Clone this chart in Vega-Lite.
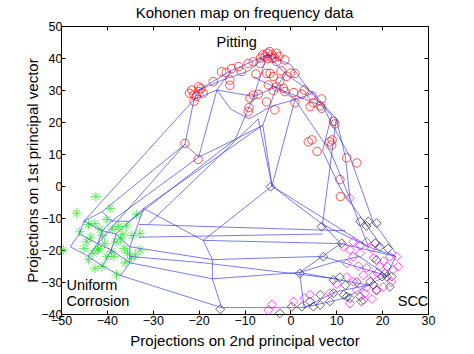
{
  "$schema": "https://vega.github.io/schema/vega-lite/v6.json",
  "width": 367,
  "height": 288,
  "autosize": {"type": "none"},
  "padding": {"left": 61, "top": 26, "right": 46, "bottom": 40},
  "background": "white",
  "title": {"text": "Kohonen map on frequency data", "font": "Liberation Sans", "fontSize": 15, "fontWeight": "normal", "color": "black", "offset": -1},
  "config": {
    "view": {"stroke": "black", "strokeWidth": 1},
    "axis": {"grid": false, "domainColor": "black", "tickColor": "black", "tickSize": -4, "labelFont": "Liberation Sans", "labelFontSize": 12.5, "labelColor": "black", "titleFont": "Liberation Sans", "titleFontSize": 15, "titleFontWeight": "normal", "titleColor": "black", "labelOverlap": false, "labelBound": false, "labelFlush": false}
  },
  "datasets": {
    "grid": [
      {"g":"r0","k":0,"x":-48,"y":-19},{"g":"r0","k":1,"x":-44,"y":-22},{"g":"r0","k":2,"x":-41,"y":-25},{"g":"r0","k":3,"x":-37,"y":-28},{"g":"r0","k":4,"x":-15,"y":-38},{"g":"r0","k":5,"x":3,"y":-38},{"g":"r0","k":6,"x":12,"y":-35},
      {"g":"r1","k":0,"x":-46,"y":-15},{"g":"r1","k":1,"x":-42,"y":-18},{"g":"r1","k":2,"x":-39,"y":-20},{"g":"r1","k":3,"x":-35,"y":-24},{"g":"r1","k":4,"x":-17,"y":-29},{"g":"r1","k":5,"x":2,"y":-27},{"g":"r1","k":6,"x":17,"y":-31},
      {"g":"r2","k":0,"x":-45,"y":-11},{"g":"r2","k":1,"x":-41,"y":-14},{"g":"r2","k":2,"x":-38,"y":-15},{"g":"r2","k":3,"x":-35,"y":-19},{"g":"r2","k":4,"x":-17,"y":-23},{"g":"r2","k":5,"x":7,"y":-22},{"g":"r2","k":6,"x":21,"y":-28},
      {"g":"r3","k":0,"x":-41,"y":-8},{"g":"r3","k":1,"x":-39,"y":-11},{"g":"r3","k":2,"x":-35,"y":-11},{"g":"r3","k":3,"x":-32,"y":-7},{"g":"r3","k":4,"x":-19,"y":-17},{"g":"r3","k":5,"x":11,"y":-18},{"g":"r3","k":6,"x":23,"y":-22},
      {"g":"r4","k":0,"x":-23,"y":13},{"g":"r4","k":1,"x":-20,"y":9},{"g":"r4","k":2,"x":-12,"y":14.6},{"g":"r4","k":3,"x":-6,"y":19},{"g":"r4","k":4,"x":-4,"y":0},{"g":"r4","k":5,"x":7,"y":-12},{"g":"r4","k":6,"x":17,"y":-19},
      {"g":"r5","k":0,"x":-21,"y":27},{"g":"r5","k":1,"x":-16,"y":30},{"g":"r5","k":2,"x":-8,"y":28},{"g":"r5","k":3,"x":-3,"y":31},{"g":"r5","k":4,"x":1,"y":27},{"g":"r5","k":5,"x":9,"y":10},{"g":"r5","k":6,"x":13,"y":-4},
      {"g":"r6","k":0,"x":-20,"y":30},{"g":"r6","k":1,"x":-13,"y":36},{"g":"r6","k":2,"x":-5,"y":41},{"g":"r6","k":3,"x":-1,"y":35},{"g":"r6","k":4,"x":5,"y":29},{"g":"r6","k":5,"x":10,"y":21},{"g":"r6","k":6,"x":12,"y":9},
      {"g":"c0","k":0,"x":-48,"y":-19},{"g":"c0","k":1,"x":-46,"y":-15},{"g":"c0","k":2,"x":-45,"y":-11},{"g":"c0","k":3,"x":-41,"y":-8},{"g":"c0","k":4,"x":-23,"y":13},{"g":"c0","k":5,"x":-21,"y":27},{"g":"c0","k":6,"x":-20,"y":30},
      {"g":"c1","k":0,"x":-44,"y":-22},{"g":"c1","k":1,"x":-42,"y":-18},{"g":"c1","k":2,"x":-41,"y":-14},{"g":"c1","k":3,"x":-39,"y":-11},{"g":"c1","k":4,"x":-20,"y":9},{"g":"c1","k":5,"x":-16,"y":30},{"g":"c1","k":6,"x":-13,"y":36},
      {"g":"c2","k":0,"x":-41,"y":-25},{"g":"c2","k":1,"x":-39,"y":-20},{"g":"c2","k":2,"x":-38,"y":-15},{"g":"c2","k":3,"x":-35,"y":-11},{"g":"c2","k":4,"x":-12,"y":14.6},{"g":"c2","k":5,"x":-8,"y":28},{"g":"c2","k":6,"x":-5,"y":41},
      {"g":"c3","k":0,"x":-37,"y":-28},{"g":"c3","k":1,"x":-35,"y":-24},{"g":"c3","k":2,"x":-35,"y":-19},{"g":"c3","k":3,"x":-32,"y":-7},{"g":"c3","k":4,"x":-6,"y":19},{"g":"c3","k":5,"x":-3,"y":31},{"g":"c3","k":6,"x":-1,"y":35},
      {"g":"c4","k":0,"x":-15,"y":-38},{"g":"c4","k":1,"x":-17,"y":-29},{"g":"c4","k":2,"x":-17,"y":-23},{"g":"c4","k":3,"x":-19,"y":-17},{"g":"c4","k":4,"x":-4,"y":0},{"g":"c4","k":5,"x":1,"y":27},{"g":"c4","k":6,"x":5,"y":29},
      {"g":"c5","k":0,"x":3,"y":-38},{"g":"c5","k":1,"x":2,"y":-27},{"g":"c5","k":2,"x":7,"y":-22},{"g":"c5","k":3,"x":11,"y":-18},{"g":"c5","k":4,"x":7,"y":-12},{"g":"c5","k":5,"x":9,"y":10},{"g":"c5","k":6,"x":10,"y":21},
      {"g":"c6","k":0,"x":12,"y":-35},{"g":"c6","k":1,"x":17,"y":-31},{"g":"c6","k":2,"x":21,"y":-28},{"g":"c6","k":3,"x":23,"y":-22},{"g":"c6","k":4,"x":17,"y":-19},{"g":"c6","k":5,"x":13,"y":-4},{"g":"c6","k":6,"x":12,"y":9},
      {"g":"e0","k":0,"x":-45,"y":-11},{"g":"e0","k":1,"x":-21,"y":27},
      {"g":"e1","k":0,"x":-42,"y":-18},{"g":"e1","k":1,"x":-23,"y":13},
      {"g":"e2","k":0,"x":-31,"y":-12},{"g":"e2","k":1,"x":-7,"y":21},
      {"g":"e3","k":0,"x":-33,"y":-16},{"g":"e3","k":1,"x":7,"y":-15},
      {"g":"e4","k":0,"x":-33,"y":-12},{"g":"e4","k":1,"x":12,"y":-14},
      {"g":"e5","k":0,"x":-35,"y":-22},{"g":"e5","k":1,"x":-19,"y":-24},{"g":"e5","k":2,"x":10,"y":-29},
      {"g":"e6","k":0,"x":-7,"y":21},{"g":"e6","k":1,"x":-4,"y":0},{"g":"e6","k":2,"x":16,"y":-18},
      {"g":"e7","k":0,"x":-5,"y":41},{"g":"e7","k":1,"x":0,"y":38},{"g":"e7","k":2,"x":4,"y":30},{"g":"e7","k":3,"x":9,"y":22},{"g":"e7","k":4,"x":7,"y":11},{"g":"e7","k":5,"x":11,"y":-1},{"g":"e7","k":6,"x":20,"y":-19},
      {"g":"e8","k":0,"x":-8,"y":34},{"g":"e8","k":1,"x":-2,"y":30},{"g":"e8","k":2,"x":7,"y":25},{"g":"e8","k":3,"x":13,"y":9},{"g":"e8","k":4,"x":18,"y":-11},{"g":"e8","k":5,"x":23,"y":-21},
      {"g":"e9","k":0,"x":-20,"y":30},{"g":"e9","k":1,"x":-15,"y":33},{"g":"e9","k":2,"x":-9,"y":36},{"g":"e9","k":3,"x":-5,"y":41},
      {"g":"e10","k":0,"x":-16,"y":30},{"g":"e10","k":1,"x":-13,"y":24},{"g":"e10","k":2,"x":-9,"y":21},{"g":"e10","k":3,"x":-4,"y":25},{"g":"e10","k":4,"x":1,"y":27},
      {"g":"e11","k":0,"x":2,"y":-27},{"g":"e11","k":1,"x":9,"y":-24},{"g":"e11","k":2,"x":15,"y":-22},{"g":"e11","k":3,"x":21,"y":-28},
      {"g":"e12","k":0,"x":3,"y":-38},{"g":"e12","k":1,"x":10,"y":-33},{"g":"e12","k":2,"x":17,"y":-31}
    ],
    "pit": [
      {"x":-5,"y":41.5},{"x":-4,"y":41},{"x":-5.5,"y":40.5},{"x":-3.5,"y":40},{"x":-4.5,"y":42},{"x":-6,"y":41},{"x":-3,"y":41.5},{"x":-4,"y":40},{"x":-5,"y":39.8},{"x":-2.5,"y":40.5},{"x":-6.5,"y":40},
      {"x":-20,"y":29.5},{"x":-21,"y":28.5},{"x":-19.5,"y":30.5},{"x":-20.5,"y":28},{"x":-19,"y":29},{"x":-21.5,"y":30},{"x":-20,"y":31},{"x":-22,"y":29},{"x":-21,"y":26.5},
      {"x":-16.8,"y":32.6},{"x":-15,"y":35.7},{"x":-14,"y":35.5},{"x":-12.8,"y":36.7},{"x":-11.3,"y":37.3},{"x":-9.2,"y":38.3},{"x":-10.7,"y":35.8},{"x":-13.2,"y":33.1},{"x":-13.2,"y":31.5},{"x":-8.1,"y":38.8},{"x":-6.6,"y":38.3},{"x":-3,"y":38.9},{"x":-1.2,"y":39.4},{"x":-4.4,"y":35.2},{"x":-3.7,"y":34.2},{"x":-2.3,"y":32.7},{"x":-0.8,"y":34.3},{"x":0,"y":35.3},{"x":-4.8,"y":31.6},{"x":-3,"y":31},{"x":-1.5,"y":30.5},{"x":-3.7,"y":29.8},{"x":-1.2,"y":29.5},{"x":0.7,"y":29.2},{"x":2.5,"y":28.7},{"x":4.7,"y":28.2},{"x":5,"y":26},{"x":6.5,"y":25.1},{"x":6.8,"y":27.2},{"x":9.7,"y":19.4},{"x":9.4,"y":20.2},{"x":8.6,"y":13.8},{"x":9,"y":12.8},{"x":3.9,"y":13.8},{"x":5.8,"y":10.8},{"x":12.3,"y":8.8},{"x":14.5,"y":7.2},{"x":10.8,"y":2},{"x":10.9,"y":-3.3},{"x":-23,"y":13.3},{"x":-20.1,"y":8.3},{"x":-9.2,"y":23.2},{"x":-8.1,"y":28.4},{"x":-8.8,"y":27.5},{"x":-5.2,"y":26.3},{"x":-3.4,"y":23.8},{"x":-7,"y":28.7},{"x":1,"y":26},{"x":-9,"y":24.5},{"x":-2,"y":36},{"x":3,"y":30},{"x":-7.5,"y":35},{"x":4.3,"y":24.8},{"x":6.8,"y":24.3},{"x":9.1,"y":14.4},{"x":4.7,"y":14.4},{"x":1,"y":35.2},{"x":-5.2,"y":35.2}
    ],
    "uc": [
      {"x":-42.4,"y":-3.3},{"x":-46.6,"y":-8.5},{"x":-39.3,"y":-7},{"x":-42.6,"y":-11.7},{"x":-37.5,"y":-12.7},{"x":-35.7,"y":-12.5},{"x":-41,"y":-15.5},{"x":-44.4,"y":-17.4},{"x":-43.5,"y":-16},{"x":-40.5,"y":-18},{"x":-38,"y":-17.5},{"x":-36.5,"y":-15},{"x":-34.5,"y":-15.5},{"x":-32.8,"y":-14.8},{"x":-32.8,"y":-20},{"x":-49.5,"y":-20},{"x":-40,"y":-22.1},{"x":-38.5,"y":-22},{"x":-41.1,"y":-25.2},{"x":-42.6,"y":-25.7},{"x":-37.9,"y":-27.8},{"x":-34.6,"y":-22.6},{"x":-33.8,"y":-21.5},{"x":-42,"y":-20},{"x":-45.9,"y":-14.3},{"x":-41.5,"y":-13.5},{"x":-38.7,"y":-13.5},{"x":-41.8,"y":-19.5},{"x":-36.2,"y":-19.5},{"x":-35.5,"y":-21},{"x":-45,"y":-19.5},{"x":-43,"y":-21},{"x":-39,"y":-20.5},{"x":-37,"y":-16.5},{"x":-40,"y":-10.5},{"x":-44,"y":-12},{"x":-33.5,"y":-9},{"x":-36,"y":-24},{"x":-44,"y":-23}
    ],
    "scc1": [
      {"x":-4.3,"y":-0.2},{"x":6.8,"y":-12.7},{"x":7.2,"y":-22.1},{"x":2.1,"y":-27.3},{"x":-15.3,"y":-38.5},{"x":-2.3,"y":-39.8},{"x":0.3,"y":-37.7},{"x":2.5,"y":-37.7},{"x":5,"y":-37.7},{"x":4.3,"y":-36.1},{"x":6.5,"y":-34},{"x":9.4,"y":-29.4},{"x":10.8,"y":-28.5},{"x":11.6,"y":-34},{"x":12.3,"y":-34.6},{"x":15.2,"y":-11.1},{"x":17,"y":-11.1},{"x":18.8,"y":-11.6},{"x":16.6,"y":-12.5},{"x":11.2,"y":-17.9},{"x":18.5,"y":-17.9},{"x":19.5,"y":-19},{"x":21.3,"y":-19.5},{"x":18.8,"y":-23.1},{"x":20.6,"y":-27.3},{"x":21,"y":-28.3},{"x":17.4,"y":-29.9},{"x":18.1,"y":-30.9},{"x":18.8,"y":-32.5},{"x":21.7,"y":-31.5},{"x":15.2,"y":-34.6},{"x":13,"y":-35},{"x":15.5,"y":-36.1},{"x":8.6,"y":-36.1},{"x":6.5,"y":-37.2},{"x":9.4,"y":-33.5},{"x":22.1,"y":-28.3},{"x":20,"y":-28.3},{"x":12,"y":-31},{"x":14.5,"y":-30}
    ],
    "scc2": [
      {"x":-4.8,"y":-38.8},{"x":0.7,"y":-36.1},{"x":4.3,"y":-34},{"x":13,"y":-3.8},{"x":11.6,"y":-19},{"x":13,"y":-20},{"x":13.7,"y":-22.1},{"x":15.2,"y":-21},{"x":12.3,"y":-24.2},{"x":14.8,"y":-25},{"x":16.6,"y":-25.6},{"x":18.1,"y":-22.5},{"x":20.3,"y":-23.5},{"x":23.2,"y":-22.1},{"x":23.5,"y":-25.2},{"x":22.4,"y":-26.2},{"x":19,"y":-27.2},{"x":21.1,"y":-25.2},{"x":15.9,"y":-27.9},{"x":18.1,"y":-27.9},{"x":16.3,"y":-33.5},{"x":17.8,"y":-35.3},{"x":18.8,"y":-32.7},{"x":16.6,"y":-31.7},{"x":15.9,"y":-35.6},{"x":14.5,"y":-32.5},{"x":13.7,"y":-29.9},{"x":12.3,"y":-28.5},{"x":10.1,"y":-30.6},{"x":8.6,"y":-33.5},{"x":13,"y":-36.7},{"x":20.3,"y":-31.5},{"x":21.7,"y":-22.1},{"x":17.7,"y":-19.5},{"x":13.7,"y":-17.4},{"x":15.2,"y":-18.6},{"x":16.6,"y":-17.5},{"x":3,"y":-35},{"x":-4,"y":-37},{"x":22,"y":-30},{"x":19.5,"y":-25}
    ],
    "labels": [
      {"t":"Pitting","x":-16.1,"y":44.8},
      {"t":"Uniform","x":-48.8,"y":-31.1},
      {"t":"Corrosion","x":-48.8,"y":-36.3},
      {"t":"SCC","x":23.4,"y":-36.2}
    ]
  },
  "layer": [
    {
      "data": {"name": "pit"},
      "mark": {"type": "point", "shape": "circle", "filled": false, "stroke": "#ff0000", "strokeWidth": 0.8, "size": 72, "opacity": 0.85},
      "encoding": {
        "x": {"field": "x", "type": "quantitative", "scale": {"domain": [-50, 30], "nice": false, "zero": false}, "axis": {"values": [-50,-40,-30,-20,-10,0,10,20,30], "title": "Projections on 2nd principal vector", "labelPadding": 4, "titlePadding": 7}},
        "y": {"field": "y", "type": "quantitative", "scale": {"domain": [-40, 50], "nice": false, "zero": false}, "axis": {"values": [-40,-30,-20,-10,0,10,20,30,40,50], "title": "Projections on 1st principal vector", "labelPadding": 3, "titlePadding": 0}}
      }
    },
    {
      "data": {"name": "uc"},
      "mark": {"type": "point", "shape": "M-1,0L1,0M0,-1L0,1M-0.7,-0.7L0.7,0.7M-0.7,0.7L0.7,-0.7", "filled": false, "stroke": "#00e600", "strokeWidth": 0.9, "size": 100},
      "encoding": {
        "x": {"field": "x", "type": "quantitative", "axis": null},
        "y": {"field": "y", "type": "quantitative", "axis": null}
      }
    },
    {
      "data": {"name": "scc1"},
      "mark": {"type": "point", "shape": "diamond", "filled": false, "stroke": "#000000", "strokeWidth": 0.8, "size": 80, "opacity": 0.75},
      "encoding": {
        "x": {"field": "x", "type": "quantitative", "axis": null},
        "y": {"field": "y", "type": "quantitative", "axis": null}
      }
    },
    {
      "data": {"name": "scc2"},
      "mark": {"type": "point", "shape": "diamond", "filled": false, "stroke": "#ff00ff", "strokeWidth": 0.8, "size": 80, "opacity": 0.85},
      "encoding": {
        "x": {"field": "x", "type": "quantitative", "axis": null},
        "y": {"field": "y", "type": "quantitative", "axis": null}
      }
    },
    {
      "data": {"name": "grid"},
      "mark": {"type": "line", "stroke": "#3030e0", "strokeWidth": 0.8, "opacity": 0.8},
      "encoding": {
        "x": {"field": "x", "type": "quantitative", "axis": null},
        "y": {"field": "y", "type": "quantitative", "axis": null},
        "detail": {"field": "g", "type": "nominal"},
        "order": {"field": "k", "type": "quantitative"}
      }
    },
    {
      "data": {"name": "labels"},
      "mark": {"type": "text", "align": "left", "baseline": "middle", "font": "Liberation Sans", "fontSize": 14.5, "color": "black"},
      "encoding": {
        "x": {"field": "x", "type": "quantitative", "axis": {"orient": "top", "values": [-50,-40,-30,-20,-10,0,10,20,30], "labels": false, "title": null, "domain": false}},
        "y": {"field": "y", "type": "quantitative", "axis": {"orient": "right", "values": [-40,-30,-20,-10,0,10,20,30,40,50], "labels": false, "title": null, "domain": false}},
        "text": {"field": "t", "type": "nominal"}
      }
    }
  ],
  "resolve": {"axis": {"x": "independent", "y": "independent"}}
}
